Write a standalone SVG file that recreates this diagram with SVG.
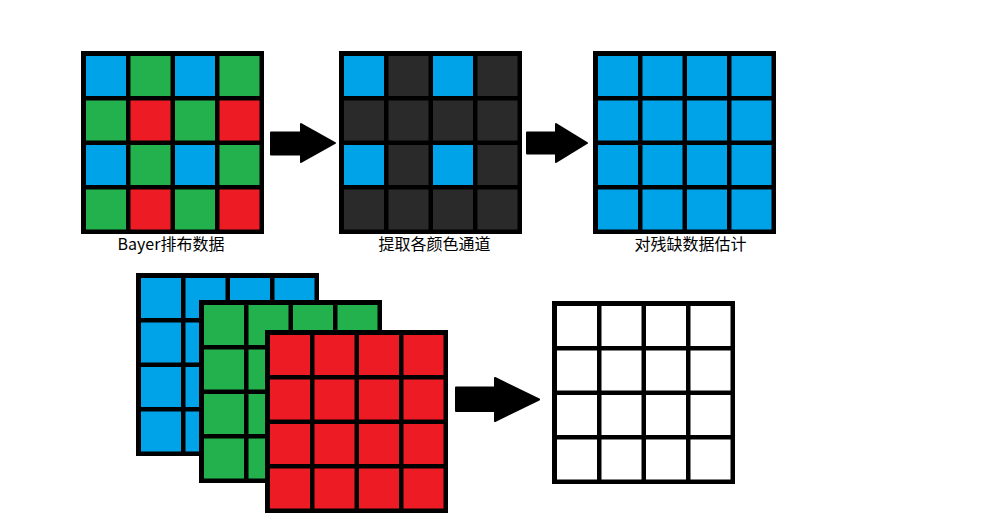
<svg xmlns="http://www.w3.org/2000/svg" xmlns:xlink="http://www.w3.org/1999/xlink" width="993" height="528" viewBox="0 0 993 528">
  <style>
    .frame { fill: #000000; }
    .b { fill: #00A2E8; }
    .g { fill: #22B14C; }
    .r { fill: #ED1C24; }
    .k { fill: #2A2A2A; }
    .w { fill: #FFFFFF; }
    .arrow { fill: #000000; stroke: #000000; stroke-width: 2; stroke-linejoin: round; }
    .label { font-family: "Microsoft YaHei", "Noto Sans CJK SC", "Noto Sans", sans-serif; font-size: 16px; fill: #000000; text-anchor: middle; }
  </style>
  <defs>
    <g id="cells">
      <rect x="5" y="5" width="40" height="40"/>
      <rect x="49.5" y="5" width="40" height="40"/>
      <rect x="94" y="5" width="40" height="40"/>
      <rect x="138.5" y="5" width="40" height="40"/>
      <rect x="5" y="49.5" width="40" height="40"/>
      <rect x="49.5" y="49.5" width="40" height="40"/>
      <rect x="94" y="49.5" width="40" height="40"/>
      <rect x="138.5" y="49.5" width="40" height="40"/>
      <rect x="5" y="94" width="40" height="40"/>
      <rect x="49.5" y="94" width="40" height="40"/>
      <rect x="94" y="94" width="40" height="40"/>
      <rect x="138.5" y="94" width="40" height="40"/>
      <rect x="5" y="138.5" width="40" height="40"/>
      <rect x="49.5" y="138.5" width="40" height="40"/>
      <rect x="94" y="138.5" width="40" height="40"/>
      <rect x="138.5" y="138.5" width="40" height="40"/>
    </g>
  </defs>

  <rect x="0" y="0" width="993" height="528" fill="#FFFFFF"/>

  <g id="bayer" transform="translate(81,51)">
    <rect class="frame" x="0" y="0" width="183" height="183"/>
    <rect class="b" x="5" y="5" width="40" height="40"/>
    <rect class="g" x="49.5" y="5" width="40" height="40"/>
    <rect class="b" x="94" y="5" width="40" height="40"/>
    <rect class="g" x="138.5" y="5" width="40" height="40"/>
    <rect class="g" x="5" y="49.5" width="40" height="40"/>
    <rect class="r" x="49.5" y="49.5" width="40" height="40"/>
    <rect class="g" x="94" y="49.5" width="40" height="40"/>
    <rect class="r" x="138.5" y="49.5" width="40" height="40"/>
    <rect class="b" x="5" y="94" width="40" height="40"/>
    <rect class="g" x="49.5" y="94" width="40" height="40"/>
    <rect class="b" x="94" y="94" width="40" height="40"/>
    <rect class="g" x="138.5" y="94" width="40" height="40"/>
    <rect class="g" x="5" y="138.5" width="40" height="40"/>
    <rect class="r" x="49.5" y="138.5" width="40" height="40"/>
    <rect class="g" x="94" y="138.5" width="40" height="40"/>
    <rect class="r" x="138.5" y="138.5" width="40" height="40"/>
    <text class="label" x="90" y="199">Bayer排布数据</text>
  </g>

  <g id="extract" transform="translate(339,51)">
    <rect class="frame" x="0" y="0" width="183" height="183"/>
    <use href="#cells" xlink:href="#cells" class="k"/>
    <rect class="b" x="5" y="5" width="40" height="40"/>
    <rect class="b" x="94" y="5" width="40" height="40"/>
    <rect class="b" x="5" y="94" width="40" height="40"/>
    <rect class="b" x="94" y="94" width="40" height="40"/>
    <text class="label" x="95.5" y="199">提取各颜色通道</text>
  </g>

  <g id="estimate" transform="translate(593,51)">
    <rect class="frame" x="0" y="0" width="183" height="183"/>
    <use href="#cells" xlink:href="#cells" class="b"/>
    <text class="label" x="97.5" y="199">对残缺数据估计</text>
  </g>

  <g id="blue-plane" transform="translate(136,273)">
    <rect class="frame" x="0" y="0" width="183" height="183"/>
    <use href="#cells" xlink:href="#cells" class="b"/>
  </g>

  <g id="green-plane" transform="translate(199,300)">
    <rect class="frame" x="0" y="0" width="183" height="183"/>
    <use href="#cells" xlink:href="#cells" class="g"/>
  </g>

  <g id="red-plane" transform="translate(265,330)">
    <rect class="frame" x="0" y="0" width="183" height="183"/>
    <use href="#cells" xlink:href="#cells" class="r"/>
  </g>

  <g id="result" transform="translate(552,301)">
    <rect class="frame" x="0" y="0" width="183" height="183"/>
    <use href="#cells" xlink:href="#cells" class="w"/>
  </g>

  <g id="connectors">
    <path class="arrow" d="M271,132.5 H301 V124 L335,143 L301,162 V154.5 H271 Z"/>
    <path class="arrow" d="M527,132.5 H556 V124 L587,143 L556,162 V153.5 H527 Z"/>
    <path class="arrow" d="M456,387.5 H495 V378 L539,399.5 L495,421 V411 H456 Z"/>
  </g>
</svg>
